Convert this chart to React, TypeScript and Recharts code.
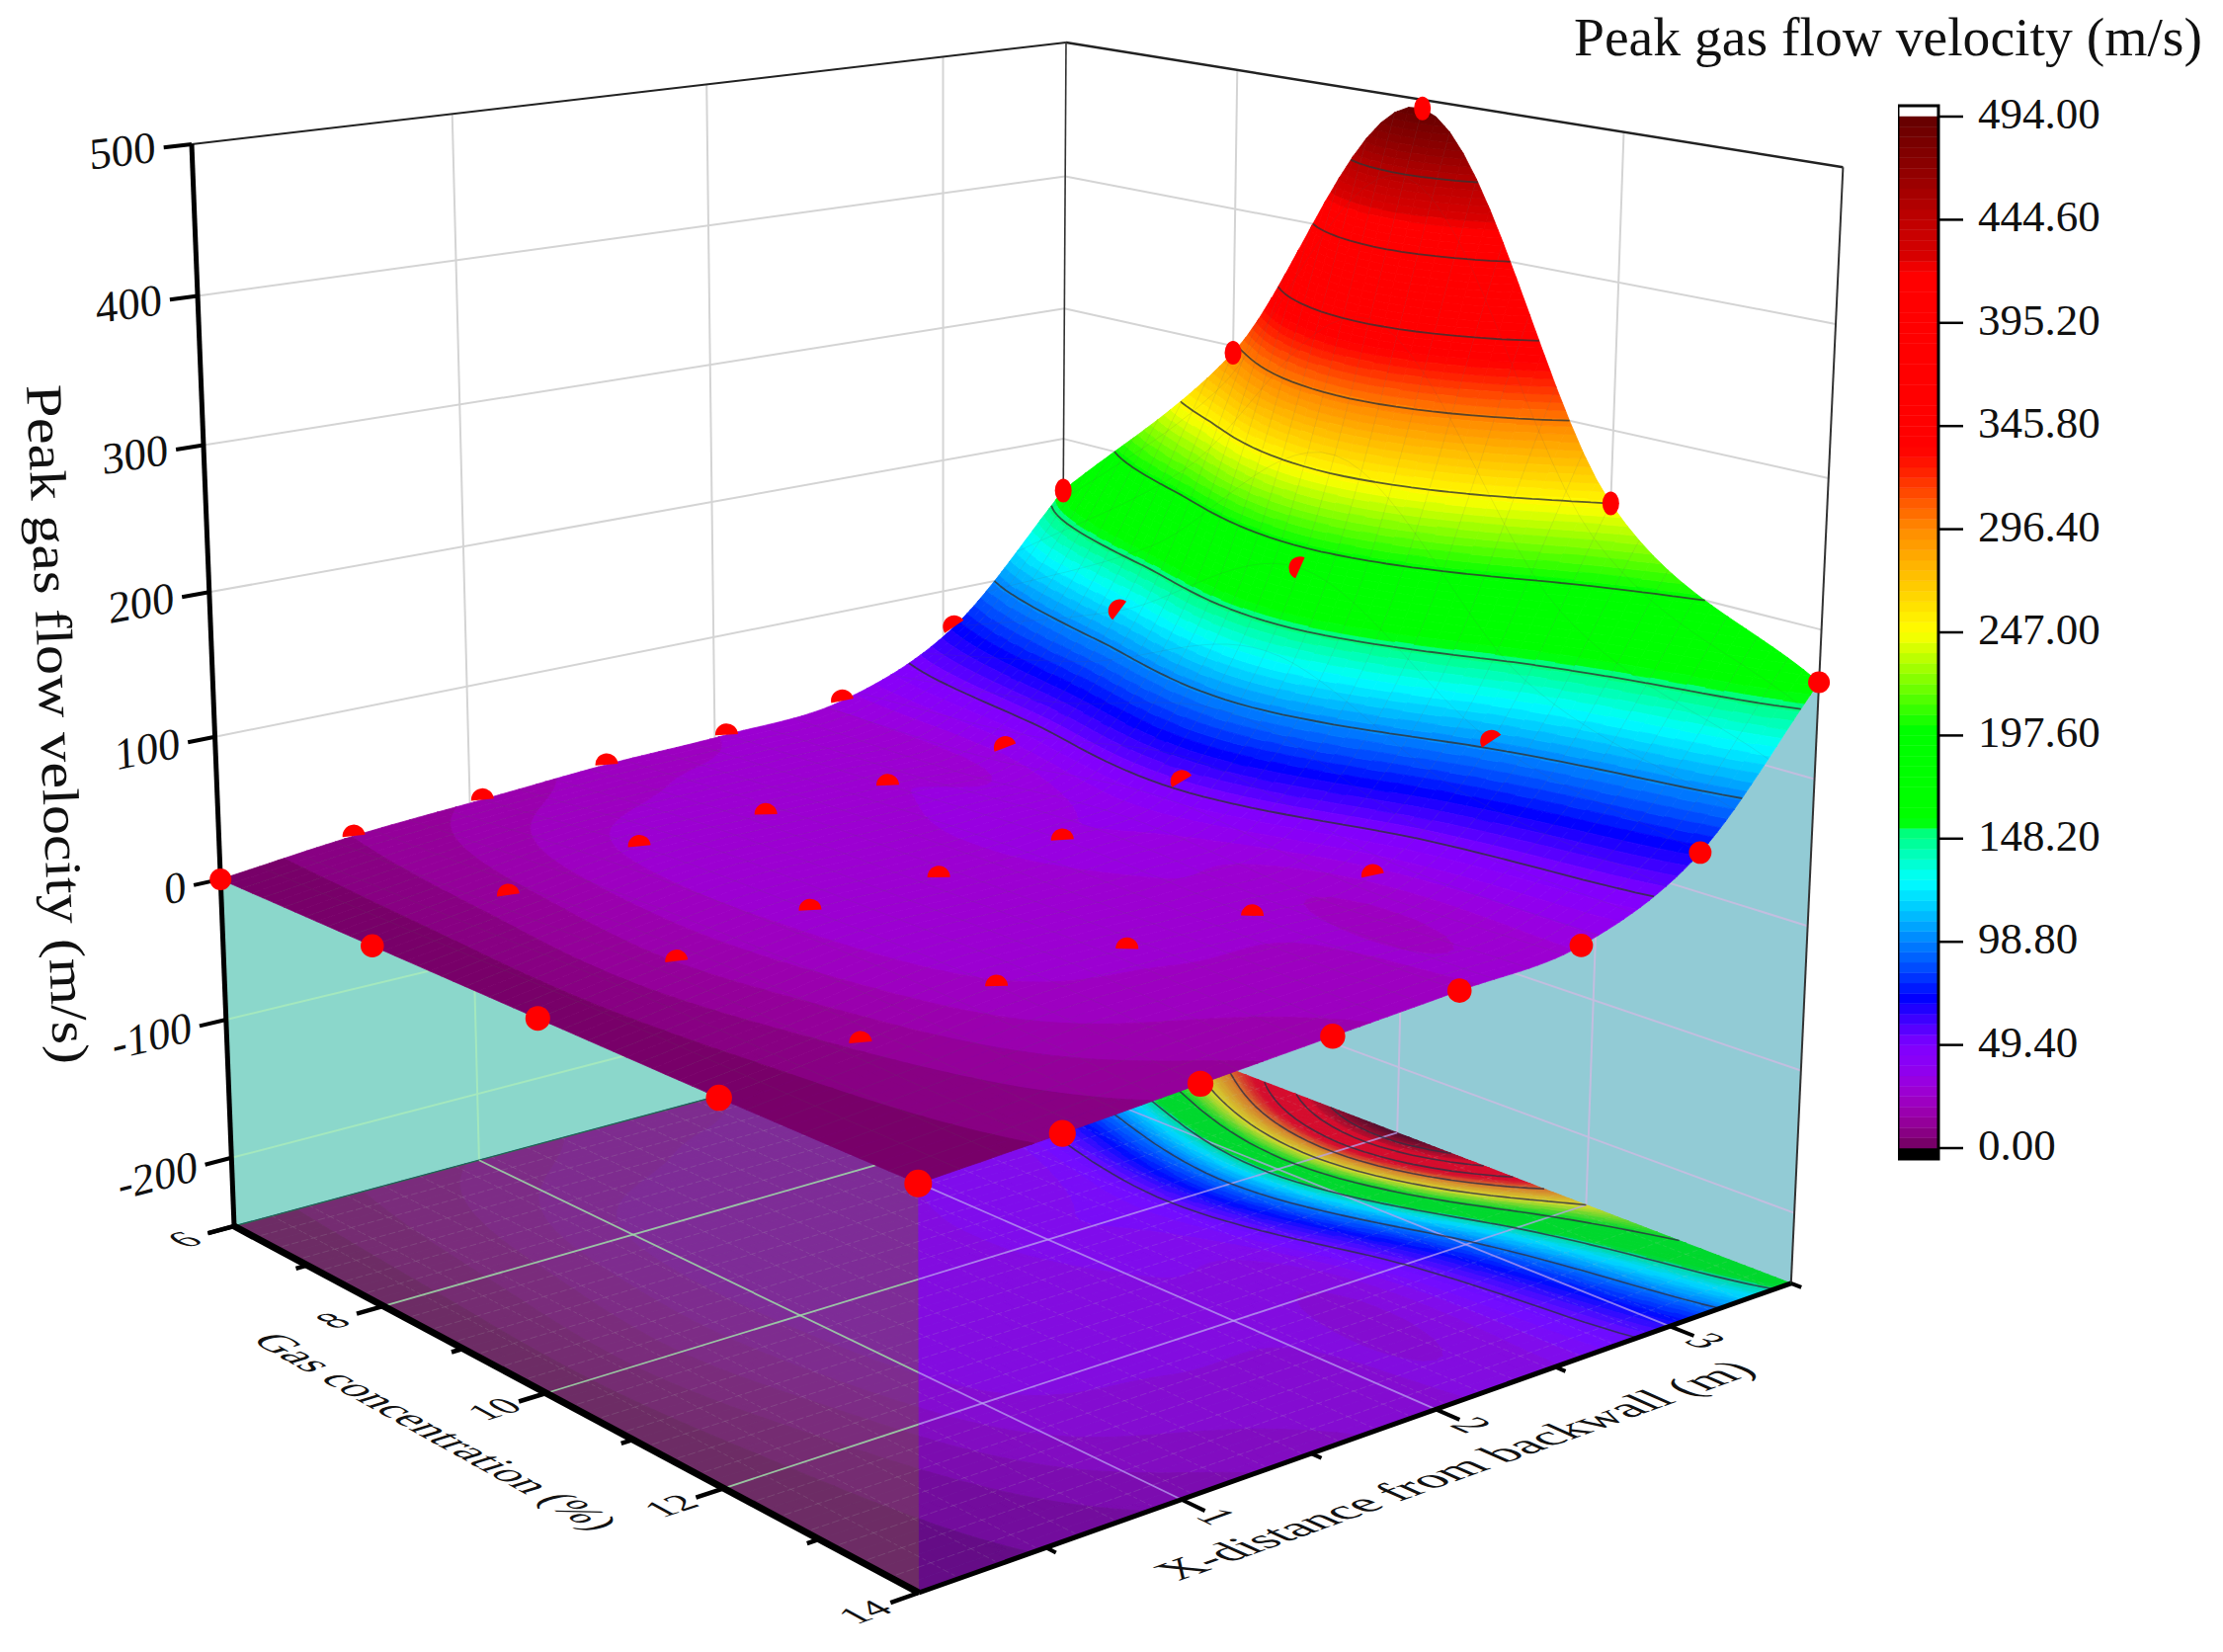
import React from 'react';
import { ScatterChart, Scatter, XAxis, YAxis, ComposedChart, ReferenceArea, Line } from 'recharts';

// ---- data: peak gas flow velocity (m/s) ----
const gasLevels = [6, 8, 10, 12, 14];
const xDistances = [0.05, 0.55, 1.05, 1.55, 2.05, 2.55, 3.05, 3.55];
const velocityGas6 = [0, 10, 16, 22, 25, 32, 71, 160];
const velocityGas8 = [0, 13, 26, 28, 29, 37, 120, 295];
const velocityGas10 = [0, 15, 27, 28, 33, 54, 187, 494];
const velocityGas12 = [0, 11, 24, 26, 26, 32, 104, 250];
const velocityGas14 = [1, 6, 12, 18, 24, 31, 71, 165];
const velocityRows = [velocityGas6, velocityGas8, velocityGas10, velocityGas12, velocityGas14];

const zTicks = [-200, -100, 0, 100, 200, 300, 400, 500];
const gasTicks = [6, 8, 10, 12, 14];
const gasMinorTicks = [7, 9, 11, 13];
const xTicks = [1, 2, 3];
const xMinorTicks = [0.5, 1.5, 2.5, 3.55];
const contourLevels = [50, 100, 150, 200, 250, 300, 350, 400, 450];
const colorbarTicks = [0, 49.4, 98.8, 148.2, 197.6, 247, 296.4, 345.8, 395.2, 444.6, 494];
const colorStops: [number, number, number, number][] = [
  [0, 112, 0, 92], [10, 145, 0, 145], [20, 158, 0, 185], [30, 155, 0, 220], [40, 140, 0, 245], [49.4, 128, 0, 255],
  [62, 60, 0, 255], [72, 0, 0, 255], [85, 0, 70, 255], [98.8, 0, 130, 255], [112, 0, 190, 255],
  [128, 0, 255, 255], [140, 0, 255, 190], [153, 0, 255, 110], [156, 0, 255, 0], [200, 0, 255, 0],
  [247, 255, 255, 0], [296, 255, 140, 0], [325, 255, 30, 0], [335, 255, 0, 0], [421, 255, 0, 0],
  [424, 220, 0, 0], [445, 190, 0, 0], [470, 140, 0, 0], [494, 100, 0, 0],
];

// ---- view box of the 3D plot ----
const W = 2250, H = 1672;
const SERIF = '"Liberation Serif", "Times New Roman", serif';
const zMin = -250, zMax = 500, gasMin = 6, gasMax = 14, xMin = 0.05, xMax = 3.55;
const boxO = [237, 1241], boxU = [930, 1612], boxV = [1073, 1016], boxW = [194, 146];
const cam = (() => {
  const e = -0.163, f = 0.1313, g = -0.0562;
  const sub = (p: number[], k: number) => [p[0] * k - boxO[0], p[1] * k - boxO[1]];
  return { e, f, g, B: sub(boxU, 1 + e), C: sub(boxV, 1 + f), D: sub(boxW, 1 + g) };
})();
const project = (u: number, v: number, w: number): [number, number] => {
  const den = 1 + cam.e * u + cam.f * v + cam.g * w;
  return [
    (boxO[0] + cam.B[0] * u + cam.C[0] * v + cam.D[0] * w) / den,
    (boxO[1] + cam.B[1] * u + cam.C[1] * v + cam.D[1] * w) / den,
  ];
};
const uOf = (g: number) => (g - gasMin) / (gasMax - gasMin);
const vOf = (x: number) => (x - xMin) / (xMax - xMin);
const wOf = (z: number) => (z - zMin) / (zMax - zMin);

// ---- colours ----
const BAND = 4.94;
const colorAt = (val: number): number[] => {
  const t = Math.max(0, Math.min(494, val));
  for (let i = 1; i < colorStops.length; i++) {
    if (t <= colorStops[i][0]) {
      const a = colorStops[i - 1], b = colorStops[i];
      const k = (t - a[0]) / (b[0] - a[0]);
      return [1, 2, 3].map((n) => a[n] + (b[n] - a[n]) * k);
    }
  }
  return colorStops[colorStops.length - 1].slice(1);
};
const bandIndex = (v: number) => Math.min(99, Math.max(0, Math.floor(v / BAND)));
const css = (c: number[]) => `rgb(${Math.round(c[0])},${Math.round(c[1])},${Math.round(c[2])})`;
const surfaceColor = (b: number) => css(colorAt((b + 0.5) * BAND));
const floorColor = (b: number) => {
  const c = colorAt((b + 0.5) * BAND);
  return css([c[0] * 0.84, c[1] * 0.8 + 12, Math.min(255, c[2] * 0.85 + 45)]);
};

// ---- smooth rendering mesh through the read values ----
const NU = 56, NV = 98;
const cubic = (p: number[], t: number) => {
  const n = p.length - 1;
  const s = Math.max(0, Math.min(n - 1e-9, t * n));
  const i = Math.floor(s), k = s - i;
  const a = p[Math.max(0, i - 1)], b = p[i], c = p[i + 1], d = p[Math.min(n, i + 2)];
  const m1 = (c - a) / (i === 0 ? 1 : 2), m2 = (d - b) / (i + 1 === n ? 1 : 2);
  const k2 = k * k, k3 = k2 * k;
  return (2 * k3 - 3 * k2 + 1) * b + (k3 - 2 * k2 + k) * m1 + (-2 * k3 + 3 * k2) * c + (k3 - k2) * m2;
};
const rowsAlongV = velocityRows.map((row) => Array.from({ length: NV + 1 }, (_, j) => cubic(row, j / NV)));
const Z: number[][] = Array.from({ length: NU + 1 }, (_, i) =>
  Array.from({ length: NV + 1 }, (_, j) =>
    Math.max(0, Math.min(494, cubic(rowsAlongV.map((r) => r[j]), i / NU)))));

const fmt = (p: number[]) => `${p[0].toFixed(1)} ${p[1].toFixed(1)}`;
const polyD = (pts: number[][], close = true) => 'M' + pts.map(fmt).join('L') + (close ? 'Z' : '');
const center = (pts: number[][]) => {
  const s = pts.reduce((a, p) => [a[0] + p[0], a[1] + p[1]], [0, 0]);
  return { x: s[0] / pts.length, y: s[1] / pts.length };
};
const item = (pts: number[][], style: any, close = true) => ({ ...center(pts), d: polyD(pts, close), ...style });
const signedArea = (p: number[][]) => {
  let s = 0;
  p.forEach((a, i) => { const b = p[(i + 1) % p.length]; s += a[0] * b[1] - b[0] * a[1]; });
  return s;
};

const surfPt = (i: number, j: number) => project(i / NU, j / NV, wOf(Z[i][j]));
const floorPt = (i: number, j: number) => project(i / NU, j / NV, 0);

// clip a triangle (x, y, value) to a value range
const clipAbove = (poly: number[][], lim: number, sign: number) => {
  const out: number[][] = [];
  poly.forEach((a, k) => {
    const b = poly[(k + 1) % poly.length];
    const ain = sign * (a[2] - lim) >= 0, bin = sign * (b[2] - lim) >= 0;
    if (ain) out.push(a);
    if (ain !== bin) {
      const t = (lim - a[2]) / (b[2] - a[2]);
      out.push([a[0] + (b[0] - a[0]) * t, a[1] + (b[1] - a[1]) * t, lim]);
    }
  });
  return out;
};
const makeBands = (pt: (i: number, j: number) => number[], color: (b: number) => string) => {
  const out: any[] = [];
  for (let i = 0; i < NU; i++) {
    const byBand = new Map<number, { d: string[]; p: number[] }>();
    const put = (b: number, poly: number[][]) => {
      if (poly.length < 3) return;
      if (!byBand.has(b)) byBand.set(b, { d: [], p: poly[0] });
      byBand.get(b)!.d.push(polyD(poly));
    };
    for (let j = NV - 1; j >= 0; j--) {
      const idx = [[i, j], [i + 1, j], [i + 1, j + 1], [i, j + 1]];
      const q = idx.map(([a, b]) => [...pt(a, b).slice(0, 2), Z[a][b]]);
      const bs = q.map((c) => bandIndex(c[2]));
      const lo = Math.min(...bs), hi = Math.max(...bs);
      if (lo === hi) { put(lo, q); continue; }
      [[q[0], q[1], q[2]], [q[0], q[2], q[3]]].forEach((tri) => {
        for (let b = lo; b <= hi; b++) {
          let poly = tri;
          if (b > 0) poly = clipAbove(poly, b * BAND, 1);
          if (b < 99 && poly.length) poly = clipAbove(poly, (b + 1) * BAND, -1);
          put(b, poly);
        }
      });
    }
    byBand.forEach((v, b) => {
      const c = color(b);
      out.push({ x: v.p[0], y: v.p[1], d: v.d.join(''), fill: c, stroke: c, w: 0.8 });
    });
  }
  return out;
};
const frontSign = Math.sign(signedArea([floorPt(0, 0), floorPt(1, 0), floorPt(1, 1), floorPt(0, 1)]));

const makeContours = (pt: (i: number, j: number) => number[], cull: boolean, style: any) =>
  contourLevels.map((lev) => {
    let d = '';
    const acc: number[][] = [];
    for (let i = 0; i < NU; i++) {
      for (let j = 0; j < NV; j++) {
        const idx = [[i, j], [i + 1, j], [i + 1, j + 1], [i, j + 1]];
        const q = idx.map(([a, b]) => pt(a, b));
        if (cull && Math.sign(signedArea(q)) !== frontSign) continue;
        const hits: number[][] = [];
        for (let k = 0; k < 4; k++) {
          const [a1, b1] = idx[k], [a2, b2] = idx[(k + 1) % 4];
          const z1 = Z[a1][b1], z2 = Z[a2][b2];
          if ((z1 < lev) !== (z2 < lev)) {
            const t = (lev - z1) / (z2 - z1);
            hits.push([q[k][0] + (q[(k + 1) % 4][0] - q[k][0]) * t, q[k][1] + (q[(k + 1) % 4][1] - q[k][1]) * t]);
          }
        }
        for (let h = 0; h + 1 < hits.length; h += 2) {
          d += `M${fmt(hits[h])}L${fmt(hits[h + 1])}`;
          acc.push(hits[h]);
        }
      }
    }
    return { ...(acc.length ? center(acc) : { x: 0, y: 0 }), d, ...style };
  }).filter((c) => c.d);

const makeMesh = (pt: (i: number, j: number) => number[], cull: boolean, style: any) => {
  const out: any[] = [];
  const add = (segs: number[][][]) => {
    if (!segs.length) return;
    const d = segs.map((s) => `M${fmt(s[0])}L${fmt(s[1])}`).join('');
    out.push({ ...center(segs.map((s) => s[0])), d, ...style });
  };
  const facing = (i: number, j: number) => {
    if (!cull) return true;
    const a = Math.min(i, NU - 1), b = Math.min(j, NV - 1);
    return Math.sign(signedArea([pt(a, b), pt(a + 1, b), pt(a + 1, b + 1), pt(a, b + 1)])) === frontSign;
  };
  for (let i = 2; i < NU; i += 2) {
    const segs: number[][][] = [];
    for (let j = 0; j < NV; j++) if (facing(i, j)) segs.push([pt(i, j), pt(i, j + 1)]);
    add(segs);
  }
  for (let j = 4; j < NV; j += 4) {
    const segs: number[][][] = [];
    for (let i = 0; i < NU; i++) if (facing(i, j)) segs.push([pt(i, j), pt(i + 1, j)]);
    add(segs);
  }
  return out;
};

// ---- walls, curtains, axes ----
const seg = (a: number[], b: number[], style: any) => item([a, b], style, false);
const wallLineSet = (style: any) => {
  const out: any[] = [];
  zTicks.forEach((z) => {
    if (z === 500) return;
    const w = wOf(z);
    out.push(seg(project(0, 0, w), project(0, 1, w), style));
    out.push(seg(project(0, 1, w), project(1, 1, w), style));
  });
  xTicks.forEach((x) => out.push(seg(project(0, vOf(x), 0), project(0, vOf(x), 1), style)));
  [8, 10, 12].forEach((g) => out.push(seg(project(uOf(g), 1, 0), project(uOf(g), 1, 1), style)));
  return out;
};
const floorMajorSet = (style: any) => {
  const out: any[] = [];
  xTicks.forEach((x) => out.push(seg(project(0, vOf(x), 0), project(1, vOf(x), 0), style)));
  [8, 10, 12].forEach((g) => out.push(seg(project(uOf(g), 0, 0), project(uOf(g), 1, 0), style)));
  return out;
};
const edgeLeftPts = Array.from({ length: NU + 1 }, (_, i) => surfPt(i, 0));
const edgeFrontPts = Array.from({ length: NV + 1 }, (_, j) => surfPt(NU, j));
const leftCurtain = [...edgeLeftPts, project(1, 0, 0), project(0, 0, 0)];
const rightCurtain = [...edgeFrontPts, project(1, 1, 0), project(1, 0, 0)];
const floorPoly = [project(0, 0, 0), project(1, 0, 0), project(1, 1, 0), project(0, 1, 0)];

const clipDefs = [{ x: 10, y: 10, defs: true }];
const DefsShape = () => (
  <defs>
    <clipPath id="leftC"><path d={polyD(leftCurtain)} /></clipPath>
    <clipPath id="rightC"><path d={polyD(rightCurtain)} /></clipPath>
    <clipPath id="floorC"><path d={polyD(floorPoly)} /></clipPath>
  </defs>
);

const wallBase = [
  item([project(0, 0, 0), project(0, 1, 0), project(0, 1, 1), project(0, 0, 1)], { fill: '#fff' }),
  item([project(0, 1, 0), project(1, 1, 0), project(1, 1, 1), project(0, 1, 1)], { fill: '#fff' }),
];
const wallLines = wallLineSet({ stroke: '#d4d4d4', w: 2 });
const curtains = [item(leftCurtain, { fill: '#8BD7CB' }), item(rightCurtain, { fill: '#92CBD5' })];
const wallLinesLeft = wallLineSet({ stroke: '#A4E8BE', w: 2, clip: 'leftC' });
const wallLinesRight = wallLineSet({ stroke: '#C2BEDF', w: 2, clip: 'rightC' });
const floorEdges = [
  seg(project(0, 0, 0), project(0, 1, 0), { stroke: '#0c6a5a', w: 1.5, clip: 'leftC' }),
];
const floorCells = makeBands(floorPt, floorColor);
const floorOverlay = [item(leftCurtain, { fill: 'rgb(120,84,62)', opacity: 0.45, clip: 'floorC' })];
const floorContours = makeContours(floorPt, false, { stroke: '#2f2f44', w: 1.6, opacity: 0.8 });
const floorMesh = makeMesh(floorPt, false, { stroke: 'rgba(190,200,190,0.15)', w: 1, dash: '4 3' });
const floorMajorLeft = floorMajorSet({ stroke: '#9FDCA8', w: 1.8, clip: 'leftC', opacity: 0.85 });
const floorMajorRight = floorMajorSet({ stroke: '#B8A0F0', w: 1.8, clip: 'rightC', opacity: 0.75 });

const surfaceCells = makeBands(surfPt, surfaceColor);
const surfaceMesh = makeMesh(surfPt, true, { stroke: 'rgba(90,90,90,0.12)', w: 1 });
const surfaceContours = makeContours(surfPt, true, { stroke: '#333', w: 1.8, opacity: 0.8 });

const frame = [
  seg(project(0, 0, 1), project(0, 1, 1), { stroke: '#222', w: 2 }),
  seg(project(0, 1, 1), project(1, 1, 1), { stroke: '#222', w: 2.4 }),
  seg(project(0, 1, 0), project(0, 1, 1), { stroke: '#333', w: 1.6 }),
  seg(project(1, 1, 0), project(1, 1, 1), { stroke: '#333', w: 2 }),
];
const axisLines = (() => {
  const out: any[] = [];
  out.push(seg(project(0, 0, 0), project(0, 0, 1), { stroke: '#000', w: 5 }));
  out.push(seg(project(0, 0, 0), project(1, 0, 0), { stroke: '#000', w: 7 }));
  out.push(seg(project(1, 0, 0), project(1, 1, 0), { stroke: '#000', w: 5 }));
  [...zTicks, zMin].forEach((z) => out.push(seg(project(0, -0.028, wOf(z)), project(0, 0, wOf(z)), { stroke: '#000', w: 4 })));
  gasTicks.forEach((g) => out.push(seg(project(uOf(g), -0.028, 0), project(uOf(g), 0, 0), { stroke: '#000', w: 4.5 })));
  gasMinorTicks.forEach((g) => out.push(seg(project(uOf(g), -0.012, 0), project(uOf(g), 0, 0), { stroke: '#000', w: 4.5 })));
  xTicks.forEach((x) => out.push(seg(project(1, vOf(x), 0), project(1.028, vOf(x), 0), { stroke: '#000', w: 4 })));
  xMinorTicks.forEach((x) => out.push(seg(project(1, vOf(x), 0), project(1.012, vOf(x), 0), { stroke: '#000', w: 4 })));
  return out;
})();

// ---- red data points ----
const dots = gasLevels.flatMap((g, gi) => xDistances.map((xd, xi) => {
  const velocity = velocityRows[gi][xi];
  const u = uOf(g), v = vOf(xd), w = wOf(velocity);
  const [sx, sy] = project(u, v, w);
  const i = Math.round(u * NU), j = Math.round(v * NV);
  const i0 = Math.max(0, i - 1), i1 = Math.min(NU, i + 1), j0 = Math.max(0, j - 1), j1 = Math.min(NV, j + 1);
  const dwdu = (wOf(Z[i1][j]) - wOf(Z[i0][j])) * NU / (i1 - i0);
  const dwdv = (wOf(Z[i][j1]) - wOf(Z[i][j0])) * NV / (j1 - j0);
  const eps = 0.01;
  const [nx, ny] = project(u - eps * dwdu, v - eps * dwdv, w + eps);
  const len = Math.hypot(nx - sx, ny - sy) || 1;
  const full = xi === 0 || gi === 4 || xi === 7;
  const r = 11 + 3 * u * (1 - v);
  return { x: sx, y: sy, gas: g, dist: xd, velocity, full, r, back: xi === 7 && gi < 4, nx: (nx - sx) / len, ny: (ny - sy) / len };
}));
const DotShape = (p: any) => {
  const d = p.payload;
  const cx = p.cx ?? d.x, cy = p.cy ?? d.y;
  if (d.back) return <ellipse cx={cx} cy={cy} rx={8.5} ry={12} fill="#ff0000" />;
  if (d.full) return <ellipse cx={cx} cy={cy} rx={d.r} ry={d.r} fill="#ff0000" />;
  const r = 11.5, tx = -d.ny, ty = d.nx;
  return <path fill="#ff0000" d={`M${cx + r * tx} ${cy + r * ty}A${r} ${r} 0 0 0 ${cx - r * tx} ${cy - r * ty}Z`} />;
};

// ---- texts ----
const basisMatrix = (o: number[], bd: number[], ud: number[], sb = 1, su = 1) => {
  const p0 = project(o[0], o[1], o[2]);
  const p1 = project(o[0] + bd[0], o[1] + bd[1], o[2] + bd[2]);
  const p2 = project(o[0] + ud[0], o[1] + ud[1], o[2] + ud[2]);
  const bl = Math.hypot(p1[0] - p0[0], p1[1] - p0[1]), ul = Math.hypot(p2[0] - p0[0], p2[1] - p0[1]);
  const m = [(p1[0] - p0[0]) / bl * sb, (p1[1] - p0[1]) / bl * sb, -(p2[0] - p0[0]) / ul * su, -(p2[1] - p0[1]) / ul * su];
  return (x: number, y: number) => `matrix(${m.map((n) => n.toFixed(4)).join(' ')} ${x.toFixed(1)} ${y.toFixed(1)})`;
};
const e3 = 0.02;
const labels: any[] = [];
zTicks.forEach((z) => {
  const o = [0, -0.036, wOf(z)];
  const [x, y] = project(o[0], o[1], o[2]);
  const mat = basisMatrix(o, [0, e3, 0], [0, 0, e3]);
  labels.push({ x, y, text: String(z), t: mat(x, y), size: 45, anchor: 'end', dy: '0.3em' });
});
gasTicks.forEach((g) => {
  const o = [uOf(g), -0.053, 0];
  const [x, y] = project(o[0], o[1], o[2]);
  const mat = basisMatrix(o, [0, e3, 0], [-e3, 0, 0], 1, 0.9);
  labels.push({ x, y, text: String(g), t: mat(x, y), size: 42, anchor: 'middle', dy: '0.33em' });
});
xTicks.forEach((xd) => {
  const o = [1.042, vOf(xd), 0];
  const [x, y] = project(o[0], o[1], o[2]);
  const mat = basisMatrix(o, [e3, 0, 0], [0, e3, 0], 1, 1);
  labels.push({ x, y, text: String(xd), t: mat(x, y), size: 44, anchor: 'middle', dy: '0.33em' });
});
{
  const gm = basisMatrix([0.5, -0.1, 0], [e3, 0, 0], [0, e3, 0], 1, 1);
  labels.push({ x: 441, y: 1449, text: 'Gas concentration (%)', t: gm(441, 1449), size: 46, anchor: 'middle', dy: '0.33em', len: 398 });
  const xm = basisMatrix([1.05, 0.5, 0], [0, e3, 0], [-e3, 0, 0], 1, 1);
  labels.push({ x: 1472, y: 1488, text: 'X-distance from backwall (m)', t: xm(1472, 1488), size: 48, anchor: 'middle', dy: '0.33em', len: 624 });
  labels.push({ x: 1593, y: 56, text: 'Peak gas flow velocity (m/s)', t: 'translate(1593 56)', size: 54, anchor: 'start', len: 636 });
  labels.push({ x: 27, y: 390, text: 'Peak gas flow velocity (m/s)', t: 'translate(27 390) rotate(87.7)', size: 52, anchor: 'start', len: 688 });
}
const LabelShape = (p: any) => {
  const d = p.payload;
  return (
    <text transform={d.t} textAnchor={d.anchor} dy={d.dy} fontFamily={SERIF} fontSize={d.size} fill="#111"
      {...(d.len ? { textLength: d.len, lengthAdjust: 'spacingAndGlyphs' } : {})}>{d.text}</text>
  );
};

const PathShape = (p: any) => {
  const d = p.payload;
  const ox = (p.cx ?? d.x) - d.x, oy = (p.cy ?? d.y) - d.y;
  return (
    <path d={d.d} transform={`translate(${ox} ${oy})`} fill={d.fill || 'none'} stroke={d.stroke || 'none'}
      strokeWidth={d.w} opacity={d.opacity} strokeDasharray={d.dash} clipPath={d.clip ? `url(#${d.clip})` : undefined} />
  );
};

const layers: any[][] = [
  wallBase, wallLines, curtains, wallLinesLeft, wallLinesRight, frame, floorCells, floorEdges, floorOverlay,
  floorMesh, floorMajorLeft, floorMajorRight, floorContours, surfaceCells, surfaceMesh, surfaceContours, axisLines,
];

// ---- colour bar ----
const bands = Array.from({ length: 100 }, (_, i) => ({ lo: i * BAND, hi: (i + 1) * BAND, fill: css(colorAt((i + 0.5) * BAND)) }));
const barRows = [{ pos: 0, v: 0 }, { pos: 1, v: 494 }];
const BarTick = (p: any) => (
  <text x={p.x} y={p.y} dy={12} fontFamily={SERIF} fontSize={45} fill="#111" textAnchor="start">
    {Number(p.payload.value).toFixed(2)}
  </text>
);

const ColorBar = () => (
  <div style={{ position: 'absolute', left: 1921, top: 87 }}>
    <ComposedChart width={329} height={1106} data={barRows} margin={{ top: 20, bottom: 20, left: 0, right: 0 }}>
      <XAxis dataKey="pos" type="number" domain={[0, 1]} hide />
      <YAxis orientation="right" type="number" domain={[-5.2, 499.2]} ticks={colorbarTicks} width={288} interval={0}
        axisLine={false} tickSize={25} tickMargin={15} tickLine={{ stroke: '#000', strokeWidth: 2.5 }}
        tick={BarTick as any} />
      <Line dataKey="v" stroke="none" dot={false} isAnimationActive={false} />
      <ReferenceArea y1={-5.2} y2={0} fill="#000" fillOpacity={1} stroke="none" />
      {bands.map((b, i) => (
        <ReferenceArea key={i} y1={b.lo} y2={b.hi} fill={b.fill} fillOpacity={1} stroke={b.fill} strokeWidth={0.5} />
      ))}
      <ReferenceArea y1={-5.2} y2={499.2} fill="none" stroke="#000" strokeWidth={3} />
    </ComposedChart>
  </div>
);

export default function App() {
  return (
    <div style={{ position: 'absolute', left: 0, top: 0, width: W, height: H, background: '#fff', overflow: 'hidden' }}>
      <ScatterChart width={W} height={H} margin={{ top: 0, right: 0, bottom: 0, left: 0 }}>
        <XAxis dataKey="x" type="number" domain={[0, W]} hide />
        <YAxis dataKey="y" type="number" domain={[0, H]} reversed hide />
        <Scatter data={clipDefs} shape={DefsShape as any} isAnimationActive={false} />
        {layers.map((data, i) => (
          <Scatter key={i} data={data} shape={PathShape as any} isAnimationActive={false} />
        ))}
        <Scatter data={dots} shape={DotShape as any} isAnimationActive={false} />
        <Scatter data={labels} shape={LabelShape as any} isAnimationActive={false} />
      </ScatterChart>
      <ColorBar />
    </div>
  );
}
